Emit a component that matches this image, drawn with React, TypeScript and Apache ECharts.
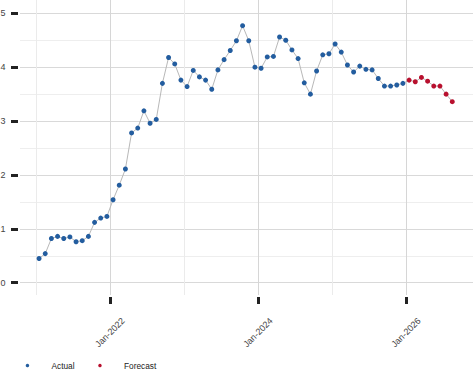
import React, { useEffect, useRef } from 'react';
import * as echarts from 'echarts';

// First observation month
const START_YEAR = 2021;
const START_MONTH = 0; // January

// Monthly actual values (Jan-2021 .. Dec-2025)
const actualValues = [
  0.45, 0.54, 0.82, 0.86, 0.82, 0.85, 0.76, 0.78, 0.86, 1.12, 1.2, 1.23,
  1.54, 1.81, 2.11, 2.78, 2.87, 3.19, 2.96, 3.03, 3.7, 4.18, 4.06, 3.76,
  3.64, 3.94, 3.82, 3.76, 3.59, 3.95, 4.14, 4.31, 4.49, 4.77, 4.49, 4.0,
  3.98, 4.19, 4.2, 4.56, 4.5, 4.32, 4.16, 3.71, 3.5, 3.93, 4.23, 4.25,
  4.43, 4.28, 4.04, 3.91, 4.02, 3.96, 3.95, 3.79, 3.65, 3.65, 3.67, 3.7,
];

// Monthly forecast values (Jan-2026 .. Aug-2026)
const forecastValues = [3.76, 3.73, 3.81, 3.74, 3.65, 3.65, 3.5, 3.36];

// Axis ticks
const xTickYears = [2022, 2024, 2026];
const yTickValues = [0, 1, 2, 3, 4, 5];

const seriesNames = ['Actual', 'Forecast'];

const FONT = 'Liberation Sans, Arial, Helvetica, sans-serif';

// month index -> decimal year at mid-month
function monthToX(i: number): number {
  const m = START_MONTH + i;
  return START_YEAR + (m + 0.5) / 12;
}

export default function App() {
  const ref = useRef<HTMLDivElement>(null);

  useEffect(() => {
    if (!ref.current) return;
    const chart = echarts.init(ref.current, undefined, { renderer: 'svg' });

    const actualData = actualValues.map((v, i) => [monthToX(i), v]);
    const forecastData = forecastValues.map((v, i) => [
      monthToX(actualValues.length + i),
      v,
    ]);
    const allData = [...actualData, ...forecastData];

    chart.setOption({
      animation: false,
      backgroundColor: '#ffffff',
      grid: {
        left: 20,
        right: 1,
        top: 0,
        bottom: 95,
        containLabel: false,
        outerBoundsMode: 'none',
      },
      legend: {
        data: seriesNames,
        left: 20.7,
        top: 356.5,
        icon: 'circle',
        itemWidth: 38,
        itemHeight: 3.5,
        itemGap: 23.7,
        textStyle: { fontSize: 8.3, color: '#222', fontFamily: FONT },
      },
      xAxis: {
        type: 'value',
        min: 2020.784,
        max: 2026.905,
        splitNumber: 3,
        minInterval: 2,
        maxInterval: 2,
        offset: 2,
        axisLine: { show: false, onZero: false },
        axisTick: {
          show: true,
          length: 7,
          customValues: xTickYears,
          lineStyle: { color: '#222', width: 3 },
        },
        axisLabel: {
          customValues: xTickYears,
          formatter: (v: number) => 'Jan-' + Math.round(v),
          rotate: 45,
          align: 'center',
          verticalAlign: 'middle',
          margin: 35.5,
          fontSize: 9,
          color: '#444',
          fontFamily: FONT,
        },
        splitLine: { show: true, lineStyle: { color: '#d6d6d6', width: 1 } },
        minorTick: { show: false, splitNumber: 2 },
        minorSplitLine: { show: true, lineStyle: { color: '#ebebeb', width: 1 } },
      },
      yAxis: {
        type: 'value',
        min: -0.228,
        max: 5.247,
        splitNumber: 5,
        minInterval: 1,
        maxInterval: 1,
        offset: 2,
        axisLine: { show: false },
        axisTick: {
          show: true,
          length: 7,
          customValues: yTickValues,
          lineStyle: { color: '#222', width: 3 },
        },
        axisLabel: {
          customValues: yTickValues,
          margin: 12.5,
          fontSize: 9,
          color: '#444',
          fontFamily: FONT,
        },
        splitLine: { show: true, lineStyle: { color: '#d9d9d9', width: 1 } },
        minorTick: { show: false, splitNumber: 2 },
        minorSplitLine: { show: true, lineStyle: { color: '#eeeeee', width: 1 } },
      },
      series: [
        {
          name: 'Trend',
          type: 'line',
          data: allData,
          showSymbol: false,
          symbol: 'none',
          silent: true,
          lineStyle: { color: '#b8b8b8', width: 1 },
          z: 1,
        },
        {
          name: 'Actual',
          type: 'scatter',
          data: actualData,
          symbol: 'circle',
          symbolSize: 5,
          itemStyle: { color: '#235d9f', opacity: 1 },
          z: 3,
        },
        {
          name: 'Forecast',
          type: 'scatter',
          data: forecastData,
          symbol: 'circle',
          symbolSize: 5,
          itemStyle: { color: '#b8102e', opacity: 1 },
          z: 3,
        },
      ],
    });

    return () => {
      chart.dispose();
    };
  }, []);

  return (
    <div
      ref={ref}
      style={{ position: 'fixed', left: 0, top: 0, width: 474, height: 390 }}
    />
  );
}
